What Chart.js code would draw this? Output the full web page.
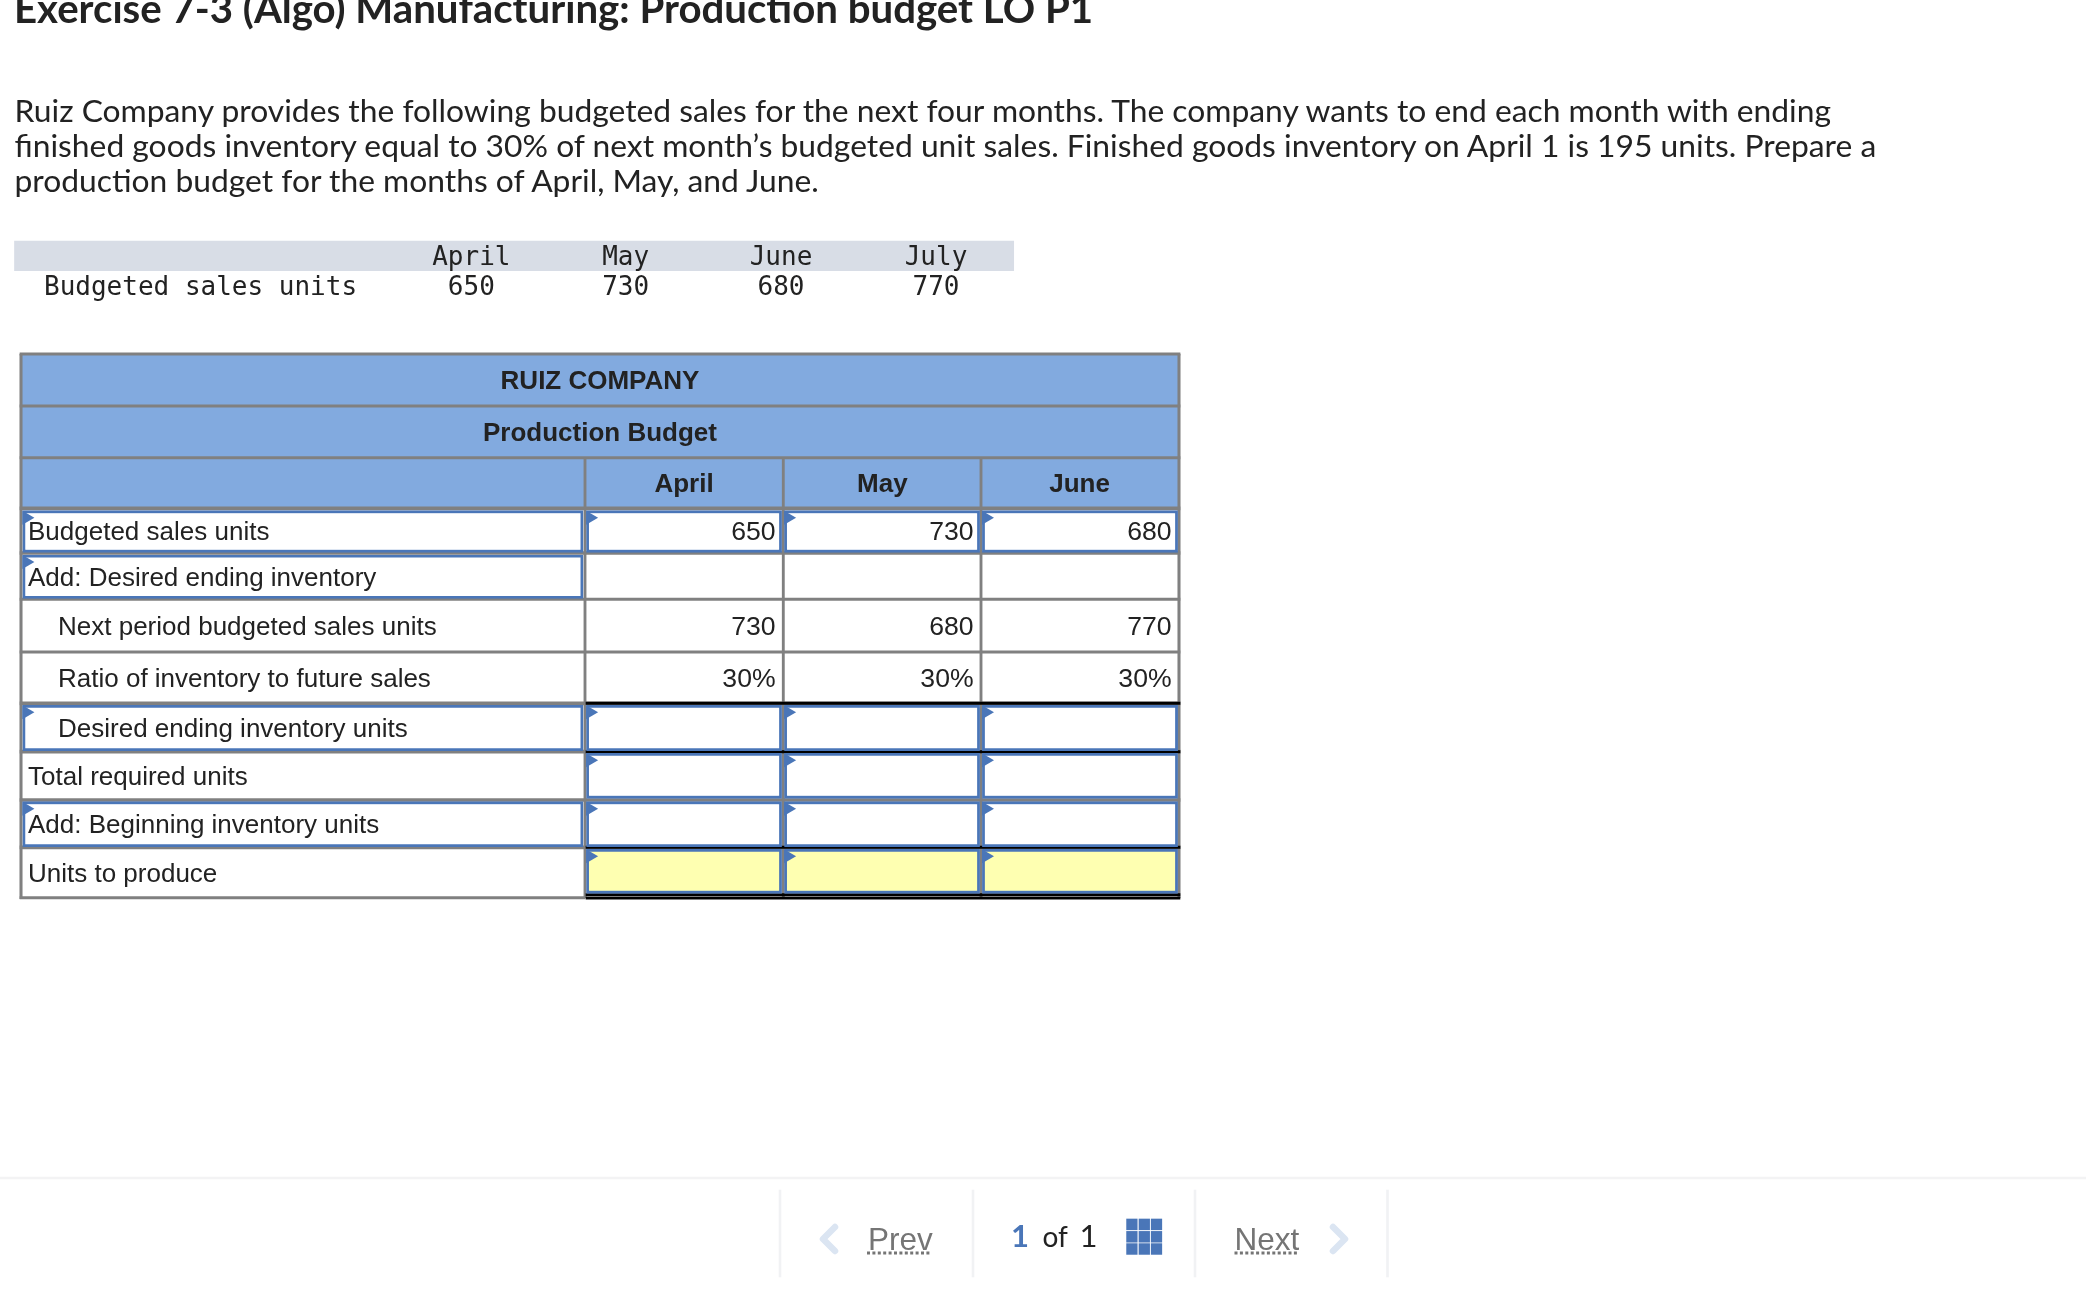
<!DOCTYPE html>
<html><head><meta charset="utf-8">
<style>html,body{margin:0;padding:0;background:#fff;overflow:hidden}canvas{display:block}</style>
<script src="https://cdn.jsdelivr.net/npm/chart.js@4/dist/chart.umd.min.js"></script>
</head><body><canvas id="c" width="2086" height="1296"></canvas>
<script>
// ---- content ----
const titleText = "Exercise 7-3 (Algo) Manufacturing: Production budget LO P1";
const introLines = [
  "Ruiz Company provides the following budgeted sales for the next four months. The company wants to end each month with ending",
  "finished goods inventory equal to 30% of next month\u2019s budgeted unit sales. Finished goods inventory on April 1 is 195 units. Prepare a",
  "production budget for the months of April, May, and June."
];
const salesMonths = ["April","May","June","July"];
const salesUnits = [650,730,680,770];
const salesRowLabel = "Budgeted sales units";
const company = "RUIZ COMPANY";
const budgetName = "Production Budget";
const budgetMonths = ["April","May","June"];
const rowLabels = ["Budgeted sales units","Add: Desired ending inventory","Next period budgeted sales units","Ratio of inventory to future sales","Desired ending inventory units","Total required units","Add: Beginning inventory units","Units to produce"];
const budgetedSales = [650,730,680];
const nextPeriodSales = [730,680,770];
const inventoryRatio = ["30%","30%","30%"];

// ---- layout ----
const L = 21, R = 1179;
const colX = [585, 783.3, 981, 1179];
const rowY = [354,406,457.7,508.3,553,599.3,652,703.3,751.7,800,847.3,897.7];
const valueBoxX = [[586.5,781.6],[784.5,979.6],[982.4,1177.6]];
const labelBoxX = [22.8,583];
const boxY = {0:[510.7,552.3],1:[555,598.4],4:[705.3,750.7],5:[753.3,798.3],6:[801.7,846.7],7:[849.3,893.3]};
const labelBoxRows = [0,1,4,6];
const valueBoxRows = [0,4,5,6,7];
const baselines = [540,586,634.7,686.7,736.7,785,832.7,881.7];
const indents = [28,28,58,58,58,28,28,28];
const valueRight = [775.6,973.6,1171.6];
const headCX = [684,882.4,1079.6];
const GREY="#808080", BLUE="#4a76b8", HEAD="#82aadf", BLACK="#000", YEL="#feffb1", INK="#222";

const ds = [];
function rect(x0,x1,y0,y1,fill,border,bw){
  ds.push({type:'bar',indexAxis:'y',stack:'a',data:[{x:[x0,x1],y:(y0+y1)/2}],barThickness:y1-y0,
    backgroundColor:fill,borderColor:border||fill,borderWidth:bw||0,borderSkipped:false,order:-ds.length});
}
function path(pts,color,w,extra){
  ds.push(Object.assign({type:'scatter',indexAxis:'x',showLine:true,data:pts,borderColor:color,borderWidth:w,pointRadius:0,fill:false,order:-ds.length},extra||{}));
}
function hline(y,x0,x1,c,t){rect(x0,x1,y-t/2,y+t/2,c);}
function vline(x,y0,y1,c,t){rect(x-t/2,x+t/2,y0,y1,c);}

// sales band
rect(14.5,1013.7,241,270.7,"#d8dde6");
// header fills
rect(L,R,rowY[0],rowY[3],HEAD);
// grey grid
rowY.forEach((y,i)=>{ hline(y,L-1,(i===rowY.length-1)?colX[0]:R+1,GREY,(i===3||i===4||i===7||i===8||i===9||i===10)?3:2.4); });
vline(L,rowY[0],rowY[11]+1,GREY,2.4);
vline(R,rowY[0],rowY[11],GREY,2.4);
colX.slice(0,3).forEach(x=>vline(x,rowY[2],rowY[11],GREY,2.2));
// black rules over the value columns
[703.3,751.7,847.3,894.6,898].forEach(y=>hline(y,colX[0]+1,R+1,BLACK,y===894.6||y===898?2.2:2.4));
// input boxes
labelBoxRows.forEach(r=>rect(labelBoxX[0],labelBoxX[1],boxY[r][0],boxY[r][1],"#fff",BLUE,2.8));
valueBoxRows.forEach(r=>valueBoxX.forEach(b=>rect(b[0],b[1],boxY[r][0],boxY[r][1],r===7?YEL:"#fff",BLUE,2.8)));
// markers
const marks=[];
labelBoxRows.forEach(r=>marks.push({x:labelBoxX[0]+3.6,y:boxY[r][0]+7}));
valueBoxRows.forEach(r=>valueBoxX.forEach(b=>marks.push({x:b[0]+3.6,y:boxY[r][0]+7})));
ds.push({type:'scatter',indexAxis:'x',data:marks,pointStyle:'triangle',rotation:90,pointRadius:8,pointBorderWidth:0,pointBackgroundColor:BLUE,order:-ds.length});
// footer
hline(1178,0,2086,"#f3f3f4",2);
[780,973,1195,1387.5].forEach(x=>vline(x,1190,1277,"#f1f2f4",2));
path([{x:835,y:1227},{x:823,y:1239},{x:835,y:1251}],"#dbe5f2",6.5,{borderCapStyle:'round',borderJoinStyle:'round'});
path([{x:1333,y:1227},{x:1345,y:1239},{x:1333,y:1251}],"#dbe5f2",6.5,{borderCapStyle:'round',borderJoinStyle:'round'});
path([{x:867,y:1253},{x:931,y:1253}],"#757575",3,{borderDash:[3,2.4]});
path([{x:1234.5,y:1253},{x:1298,y:1253}],"#757575",3,{borderDash:[3,2.4]});
[1219,1231.4,1243.6].forEach(y=>[1126.6,1139,1151.2].forEach(x=>rect(x,x+10.6,y,y+10.8,BLUE)));

const textPlugin={id:'text',afterDatasetsDraw(chart){
  const c=chart.ctx,X=v=>chart.scales.x.getPixelForValue(v),Y=v=>chart.scales.y.getPixelForValue(v);
  const T=(s,x,y,font,color,al)=>{c.font=font;c.fillStyle=color||INK;c.textAlign=al||'left';c.textBaseline='alphabetic';c.fontKerning='normal';c.fillText(String(s),X(x),Y(y));};
  c.save();
  T(titleText,14,23.3,"bold 40.2px Lato");
  introLines.forEach((s,i)=>T(s,14.5,[121.7,156.7,191.7][i],"31.8px Lato"));
  const mono="26px 'DejaVu Sans Mono'";
  T(salesRowLabel,44,295,mono,"#222");
  const sx=[471.3,625.7,781,936];
  salesMonths.forEach((m,i)=>{T(m,sx[i],265,mono,"#222",'center');T(salesUnits[i],sx[i],295,mono,"#222",'center');});
  const B="bold 26px 'Liberation Sans'",N="26px 'Liberation Sans'",V="26.6px 'Liberation Sans'";
  T(company,600,389,B,INK,'center');
  T(budgetName,600,440.7,B,INK,'center');
  budgetMonths.forEach((m,i)=>T(m,headCX[i],491.7,B,INK,'center'));
  rowLabels.forEach((s,i)=>T(s,indents[i],baselines[i],N));
  budgetedSales.forEach((v,i)=>T(v,valueRight[i],baselines[0],V,INK,'right'));
  nextPeriodSales.forEach((v,i)=>T(v,valueRight[i],baselines[2],V,INK,'right'));
  inventoryRatio.forEach((v,i)=>T(v,valueRight[i],baselines[3],V,INK,'right'));
  T("Prev",868,1250,"31.5px 'Liberation Sans'","#757575");
  T("Next",1234.5,1250,"31.5px 'Liberation Sans'","#757575");
  T("1",1020,1247,"bold 31px Lato",BLUE,'center');
  T("of",1042.5,1247,"28px Lato","#222");
  T("1",1088.5,1247,"31px Lato","#222",'center');
  c.restore();
}};

new Chart(document.getElementById('c'),{
  type:'bar',
  data:{datasets:ds},
  plugins:[textPlugin],
  options:{
    responsive:false,animation:false,devicePixelRatio:1,indexAxis:'y',
    layout:{padding:0,autoPadding:false},
    plugins:{legend:{display:false},tooltip:{enabled:false},title:{display:false}},
    events:[],
    scales:{
      x:{type:'linear',min:0,max:2086,display:false,stacked:false,offset:false},
      y:{type:'linear',min:0,max:1296,reverse:true,display:false,offset:false}
    }
  }
});
</script></body></html>
